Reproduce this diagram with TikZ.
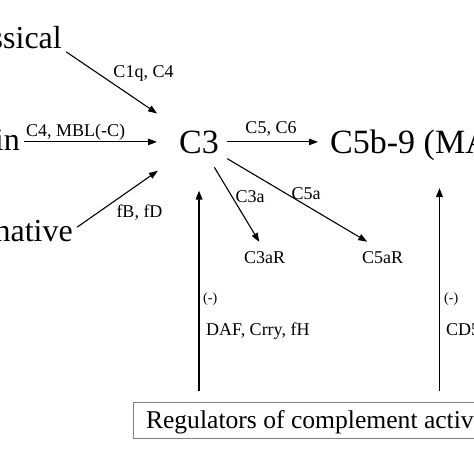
\documentclass[tikz,border=0pt]{standalone}
\usepackage{fontspec}
\setmainfont{Liberation Serif}
\usepackage{tikz}
\usetikzlibrary{arrows.meta}

\begin{document}
\begin{tikzpicture}[x=1pt,y=-1pt]
	\useasboundingbox (0,0) rectangle (474,474);
	\clip (0,0) rectangle (474,474);
	\begin{scope}[every node/.style={inner sep=0pt,font=\fontsize{32}{34}\selectfont}]
		\node[anchor=base east] (CL) at (62,48.5) {Classical};
		\node[anchor=base east] (LE) at (20,150) {Lectin};
		\node[anchor=base east] (AL) at (73,241) {Alternative};
	\end{scope}
	\begin{scope}[every node/.style={inner sep=0pt,font=\fontsize{34}{36}\selectfont}]
		\node[anchor=base west] (C3) at (179,153) {C3};
		\node[anchor=base west] (MAC) at (330,153) {C5b-9 (MAC)};
	\end{scope}
	\begin{scope}[every node/.style={inner sep=0pt,font=\fontsize{18}{20}\selectfont}]
		\node[anchor=base west] (C3aR) at (244,263) {C3aR};
		\node[anchor=base west] (C5aR) at (362,263) {C5aR};
		\node[anchor=base] at (143.5,77) {C1q, C4};
		\node[anchor=base west] at (26,136) {C4, MBL(-C)};
		\node[anchor=base] at (139.5,217) {fB, fD};
		\node[anchor=base] at (271,133) {C5, C6};
		\node[anchor=base] at (250,202) {C3a};
		\node[anchor=base] at (306,199) {C5a};
		\node[anchor=base west] at (206,335) {DAF, Crry, fH};
		\node[anchor=base west] at (446,335) {CD59};
	\end{scope}
	\begin{scope}[every node/.style={inner sep=0pt,font=\fontsize{14}{16}\selectfont}]
		\node[anchor=base west] at (203,302.5) {(-)};
		\node[anchor=base west] at (444,302.5) {(-)};
	\end{scope}
	\node[draw=black!50, line width=1pt, inner xsep=12.5pt, inner ysep=0pt,
		text height=26pt, text depth=10pt, anchor=base west,
		font=\fontsize{25.6}{27}\selectfont] (REG) at (133,428) {Regulators of complement activation};
	\coordinate (CDin) at (439.5,188);

	\begin{scope}[>={Triangle[length=9pt,width=6.5pt]},
			every edge/.style={draw,->,line width=1.1pt}]
		\path (CL.south east) edge[shorten <=5pt, shorten >=30pt] (C3);
		\path (LE.east |- C3.west) edge[shorten <=4pt, shorten >=22pt] (C3.west);
		\path (AL.east) edge[shorten <=5pt, shorten >=30pt] (C3);
		\path (C3.east) edge[shorten <=8pt, shorten >=12pt] (C3.east -| MAC.west);
		\path (C3) edge[shorten <=16pt, shorten >=10.5pt] (C3aR.north);
		\path (C3) edge[shorten <=10pt, shorten >=18pt] (C5aR.north);
	\end{scope}
	\begin{scope}[>={Triangle[length=9pt,width=6.5pt]},
			every edge/.style={draw,->,line width=1.8pt}]
		\path (REG.north -| C3) edge[shorten <=11pt, shorten >=37pt] (C3);
		\path (REG.north -| CDin) edge[shorten <=11pt] (CDin);
	\end{scope}
\end{tikzpicture}
\end{document}
